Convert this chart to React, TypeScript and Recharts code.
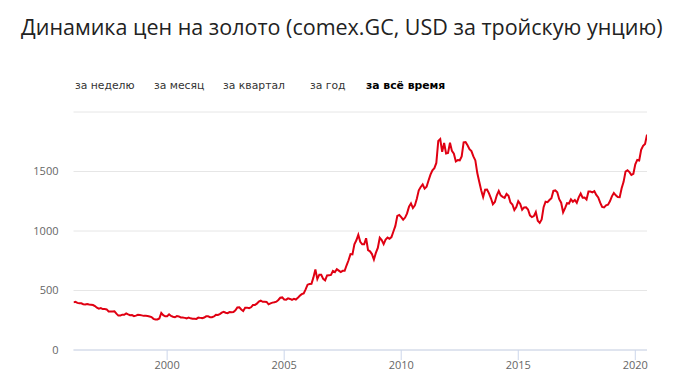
import { LineChart, Line, XAxis, YAxis, CartesianGrid } from 'recharts';

// monthly COMEX gold, USD per troy ounce
const START_YEAR = 1996;

const prices1996to2000 = [
  400, 405, 396, 393, 392, 385, 383, 387, 383, 381, 378, 369,
  355, 347, 352, 344, 344, 341, 324, 324, 323, 325, 306, 289,
  289, 297, 296, 308, 299, 292, 293, 284, 289, 296, 294, 291,
  287, 287, 286, 282, 277, 262, 256, 257, 265, 311, 293, 283,
  284, 300, 286, 280, 275, 285, 282, 274, 273, 270, 266, 272,
];

const prices2001to2005 = [
  266, 262, 263, 261, 272, 270, 268, 273, 283, 283, 276, 276,
  282, 295, 294, 302, 314, 321, 313, 310, 319, 317, 319, 333,
  357, 359, 341, 328, 355, 356, 351, 359, 378, 379, 389, 407,
  414, 405, 406, 404, 384, 392, 398, 401, 406, 420, 439, 442,
  424, 423, 434, 429, 422, 430, 424, 438, 456, 469, 476, 510,
];

const prices2006to2010 = [
  549, 555, 557, 610, 676, 596, 633, 632, 598, 585, 627, 629,
  631, 665, 655, 679, 667, 655, 665, 665, 712, 754, 806, 803,
  889, 922, 968, 909, 888, 889, 939, 839, 829, 806, 760, 816,
  858, 943, 924, 890, 928, 945, 934, 949, 996, 1043, 1127, 1134,
  1117, 1095, 1113, 1148, 1205, 1232, 1193, 1215, 1271, 1342, 1370, 1391,
];

const prices2011to2015 = [
  1356, 1372, 1424, 1473, 1510, 1528, 1572, 1756, 1772, 1665, 1739, 1652,
  1656, 1742, 1673, 1650, 1585, 1596, 1594, 1626, 1744, 1747, 1721, 1688,
  1671, 1627, 1593, 1487, 1414, 1343, 1286, 1347, 1349, 1316, 1275, 1225,
  1244, 1300, 1336, 1299, 1287, 1279, 1311, 1296, 1239, 1223, 1176, 1201,
  1251, 1227, 1178, 1198, 1199, 1181, 1131, 1117, 1125, 1159, 1086, 1068,
];

const prices2016to2020 = [
  1097, 1200, 1246, 1242, 1260, 1276, 1337, 1341, 1326, 1267, 1238, 1157,
  1192, 1234, 1231, 1266, 1246, 1260, 1236, 1283, 1315, 1280, 1282, 1265,
  1331, 1331, 1325, 1335, 1303, 1282, 1238, 1202, 1198, 1215, 1221, 1250,
  1291, 1320, 1300, 1285, 1284, 1359, 1413, 1500, 1510, 1495, 1471, 1480,
  1560, 1597, 1592, 1683, 1715, 1732, 1810,
];

const yTicks = [0, 500, 1000, 1500, 2000];
const xTicks = [2000, 2005, 2010, 2015, 2020];
const periodTabs = ['за неделю', 'за месяц', 'за квартал', 'за год', 'за всё время'];
const tabLeft = [75, 154, 223, 310, 366];

const prices = [
  ...prices1996to2000,
  ...prices2001to2005,
  ...prices2006to2010,
  ...prices2011to2015,
  ...prices2016to2020,
];
const data = prices.map((price, i) => ({ t: START_YEAR + i / 12, price }));

const axisFont = '"Open Sans", "DejaVu Sans", sans-serif';

export default function App() {
  return (
    <div style={{ position: 'absolute', left: 0, top: 0, width: 682, height: 390, background: '#fff', overflow: 'hidden' }}>
      <div
        style={{
          position: 'absolute',
          left: 21,
          top: 12,
          fontFamily: axisFont,
          fontSize: 21.5,
          color: '#222',
          whiteSpace: 'nowrap',
        }}
      >
        Динамика цен на золото (comex.GC, USD за тройскую унцию)
      </div>
      {periodTabs.map((tab, i) => (
        <div
          key={tab}
          style={{
            position: 'absolute',
            left: tabLeft[i],
            top: 79,
            fontFamily: '"DejaVu Sans", Verdana, sans-serif',
            fontSize: 10.8,
            fontWeight: i === periodTabs.length - 1 ? 'bold' : 'normal',
            color: i === periodTabs.length - 1 ? '#000' : '#333',
            whiteSpace: 'nowrap',
          }}
        >
          {tab}
        </div>
      ))}
      <div style={{ position: 'absolute', left: 0, top: 0 }}>
        <LineChart width={682} height={390} data={data} margin={{ top: 112, right: 35, bottom: 10, left: 0 }}>
          <CartesianGrid stroke="#e6e6e6" vertical={false} horizontalValues={yTicks} />
          <XAxis
            dataKey="t"
            type="number"
            domain={[START_YEAR, 2020.5]}
            ticks={xTicks}
            allowDataOverflow
            height={30}
            stroke="#ccd6eb"
            tickSize={10}
            tickMargin={1}
            tick={{ fill: '#666', fontSize: 11, fontFamily: axisFont }}
          />
          <YAxis
            type="number"
            domain={[0, 2000]}
            ticks={yTicks}
            width={73.5}
            axisLine={false}
            tickLine={false}
            tickSize={0}
            tickMargin={15}
            tickFormatter={(v: number) => (v >= 2000 ? '' : String(v))}
            tick={{ fill: '#666', fontSize: 11, fontFamily: axisFont }}
          />
          <Line
            type="linear"
            dataKey="price"
            stroke="#e00012"
            strokeWidth={2}
            dot={false}
            isAnimationActive={false}
          />
        </LineChart>
      </div>
    </div>
  );
}
